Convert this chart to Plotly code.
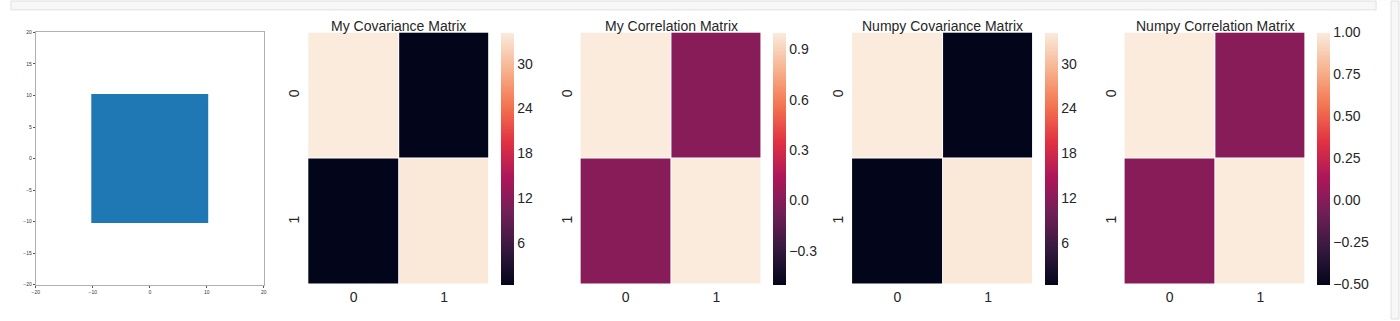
import plotly.graph_objects as go

W, H = 1400, 321

# ---------------- data ----------------
scatter_x_bounds = [-10, 10]
scatter_y_bounds = [-10, 10]

labels = ["0", "1"]
my_cov = [[34.2, 0.38], [0.38, 33.9]]
my_corr = [[1.0, 0.011], [0.011, 1.0]]
np_cov = [[34.2, 0.38], [0.38, 33.9]]
np_corr = [[1.0, 0.011], [0.011, 1.0]]

cov_ticks = [6, 12, 18, 24, 30]
my_corr_ticks = [-0.3, 0.0, 0.3, 0.6, 0.9]
my_corr_ticktext = ["\u22120.3", "0.0", "0.3", "0.6", "0.9"]
np_corr_ticks = [-0.5, -0.25, 0.0, 0.25, 0.5, 0.75, 1.0]
np_corr_ticktext = ["\u22120.50", "\u22120.25", "0.00", "0.25", "0.50", "0.75", "1.00"]
corr_range = [-0.5, 1.0]

titles = ["My Covariance Matrix", "My Correlation Matrix",
          "Numpy Covariance Matrix", "Numpy Correlation Matrix"]

rocket = [
    [0.0, "#03051a"], [1/7, "#35193e"], [2/7, "#701f57"], [3/7, "#ad1759"],
    [4/7, "#e13342"], [5/7, "#f37651"], [6/7, "#f6b48f"], [1.0, "#faebdd"],
]

FONT = "Liberation Sans, Arial, sans-serif"
TXT = "#262626"

def px_x(v):
    return v / W

def px_y(v):
    return 1 - v / H

fig = go.Figure()

# --------------- scatter panel ----------------
x0, x1 = scatter_x_bounds
y0, y1 = scatter_y_bounds
sx = [x0, x1, x1, x0, x0, x1]
sy = [y0, y0, y1, y1, y0, y0]
fig.add_trace(go.Scatter(x=sx, y=sy, mode="lines", fill="toself",
                         fillcolor="#1f77b4", line=dict(color="#1f77b4", width=3),
                         xaxis="x", yaxis="y", showlegend=False, hoverinfo="skip"))

fig.update_layout(
    xaxis=dict(domain=[px_x(32), px_x(261)], range=[-20, 20], tickvals=[-20, -10, 0, 10, 20],
               ticktext=["\u221220", "\u221210", "0", "10", "20"],
               showgrid=False, zeroline=False, showline=True, linecolor="#b0b0b0", linewidth=1,
               mirror=True, ticks="outside", ticklen=2, tickcolor="#555", tickwidth=1,
               tickfont=dict(size=5, color="#333", family=FONT), anchor="y"),
    yaxis=dict(domain=[px_y(287), px_y(30)], range=[-20, 20],
               tickvals=[-20, -15, -10, -5, 0, 5, 10, 15, 20],
               ticktext=["\u221220", "\u221215", "\u221210", "\u22125", "0", "5", "10", "15", "20"],
               showgrid=False, zeroline=False, showline=True, linecolor="#b0b0b0", linewidth=1,
               mirror=True, ticks="outside", ticklen=2, tickcolor="#555", tickwidth=1,
               tickfont=dict(size=5, color="#333", family=FONT), anchor="x"),
)

# --------------- heatmap panels ----------------
panel_left = [305.7, 579.3, 852.3, 1126.0]
panel_w = 182.3
top, bottom = 30, 287
mats = [my_cov, my_corr, np_cov, np_corr]
ranges = [[min(min(r) for r in my_cov), max(max(r) for r in my_cov)], corr_range,
          [min(min(r) for r in np_cov), max(max(r) for r in np_cov)], corr_range]
tvals = [cov_ticks, my_corr_ticks, cov_ticks, np_corr_ticks]
ttext = [[str(t) for t in cov_ticks], my_corr_ticktext, [str(t) for t in cov_ticks], np_corr_ticktext]

for i in range(4):
    n = i + 2
    xa, ya = f"x{n}", f"y{n}"
    L = panel_left[i]
    R = L + panel_w
    fig.add_trace(go.Heatmap(
        z=mats[i], x=[0, 1], y=[0, 1], xaxis=xa, yaxis=ya,
        colorscale=rocket, zmin=ranges[i][0], zmax=ranges[i][1],
        xgap=1, ygap=1, hoverinfo="skip",
        colorbar=dict(x=px_x(R + 11.3), xanchor="left", thickness=13, thicknessmode="pixels",
                      len=(bottom - top) / H, lenmode="fraction", y=px_y((top + bottom) / 2),
                      yanchor="middle", xpad=0, ypad=0, outlinewidth=0, ticks="",
                      tickvals=tvals[i], ticktext=ttext[i],
                      tickfont=dict(size=14, color=TXT, family=FONT)),
    ))
    fig.layout[f"xaxis{n}"] = dict(domain=[px_x(L), px_x(R)], range=[-0.5, 1.5], tickvals=[0, 1],
                                   ticktext=labels, showgrid=False, zeroline=False, showline=False,
                                   ticks="", ticklabelstandoff=2,
                                   tickfont=dict(size=14, color=TXT, family=FONT),
                                   anchor=ya, fixedrange=True)
    fig.layout[f"yaxis{n}"] = dict(domain=[px_y(bottom), px_y(top)], range=[1.5, -0.5], tickvals=[0, 1],
                                   ticktext=labels, showgrid=False, zeroline=False, showline=False,
                                   ticks="", tickangle=-90, ticklabelstandoff=5,
                                   tickfont=dict(size=14, color=TXT, family=FONT),
                                   anchor=xa, fixedrange=True)
    fig.add_annotation(text=titles[i], x=px_x((L + R) / 2), y=px_y(23), xref="paper", yref="paper",
                       xanchor="center", yanchor="middle", showarrow=False,
                       font=dict(size=14, color=TXT, family=FONT))

# notebook chrome: top strip and right gutter
fig.add_shape(type="rect", xref="paper", yref="paper", x0=px_x(7), x1=px_x(1379), y0=px_y(7), y1=px_y(-2),
              fillcolor="#f7f7f7", line=dict(color="#e0e0e0", width=1), layer="below")
fig.add_shape(type="rect", xref="paper", yref="paper", x0=px_x(1394), x1=px_x(1402), y0=px_y(322), y1=px_y(-2),
              fillcolor="#f7f7f7", line=dict(color="#e0e0e0", width=1), layer="below")

fig.update_layout(width=W, height=H, margin=dict(l=0, r=0, t=0, b=0, pad=0),
                  paper_bgcolor="white", plot_bgcolor="white", showlegend=False,
                  font=dict(family=FONT, color=TXT))

fig.write_html("out.html", config={"displayModeBar": False})
